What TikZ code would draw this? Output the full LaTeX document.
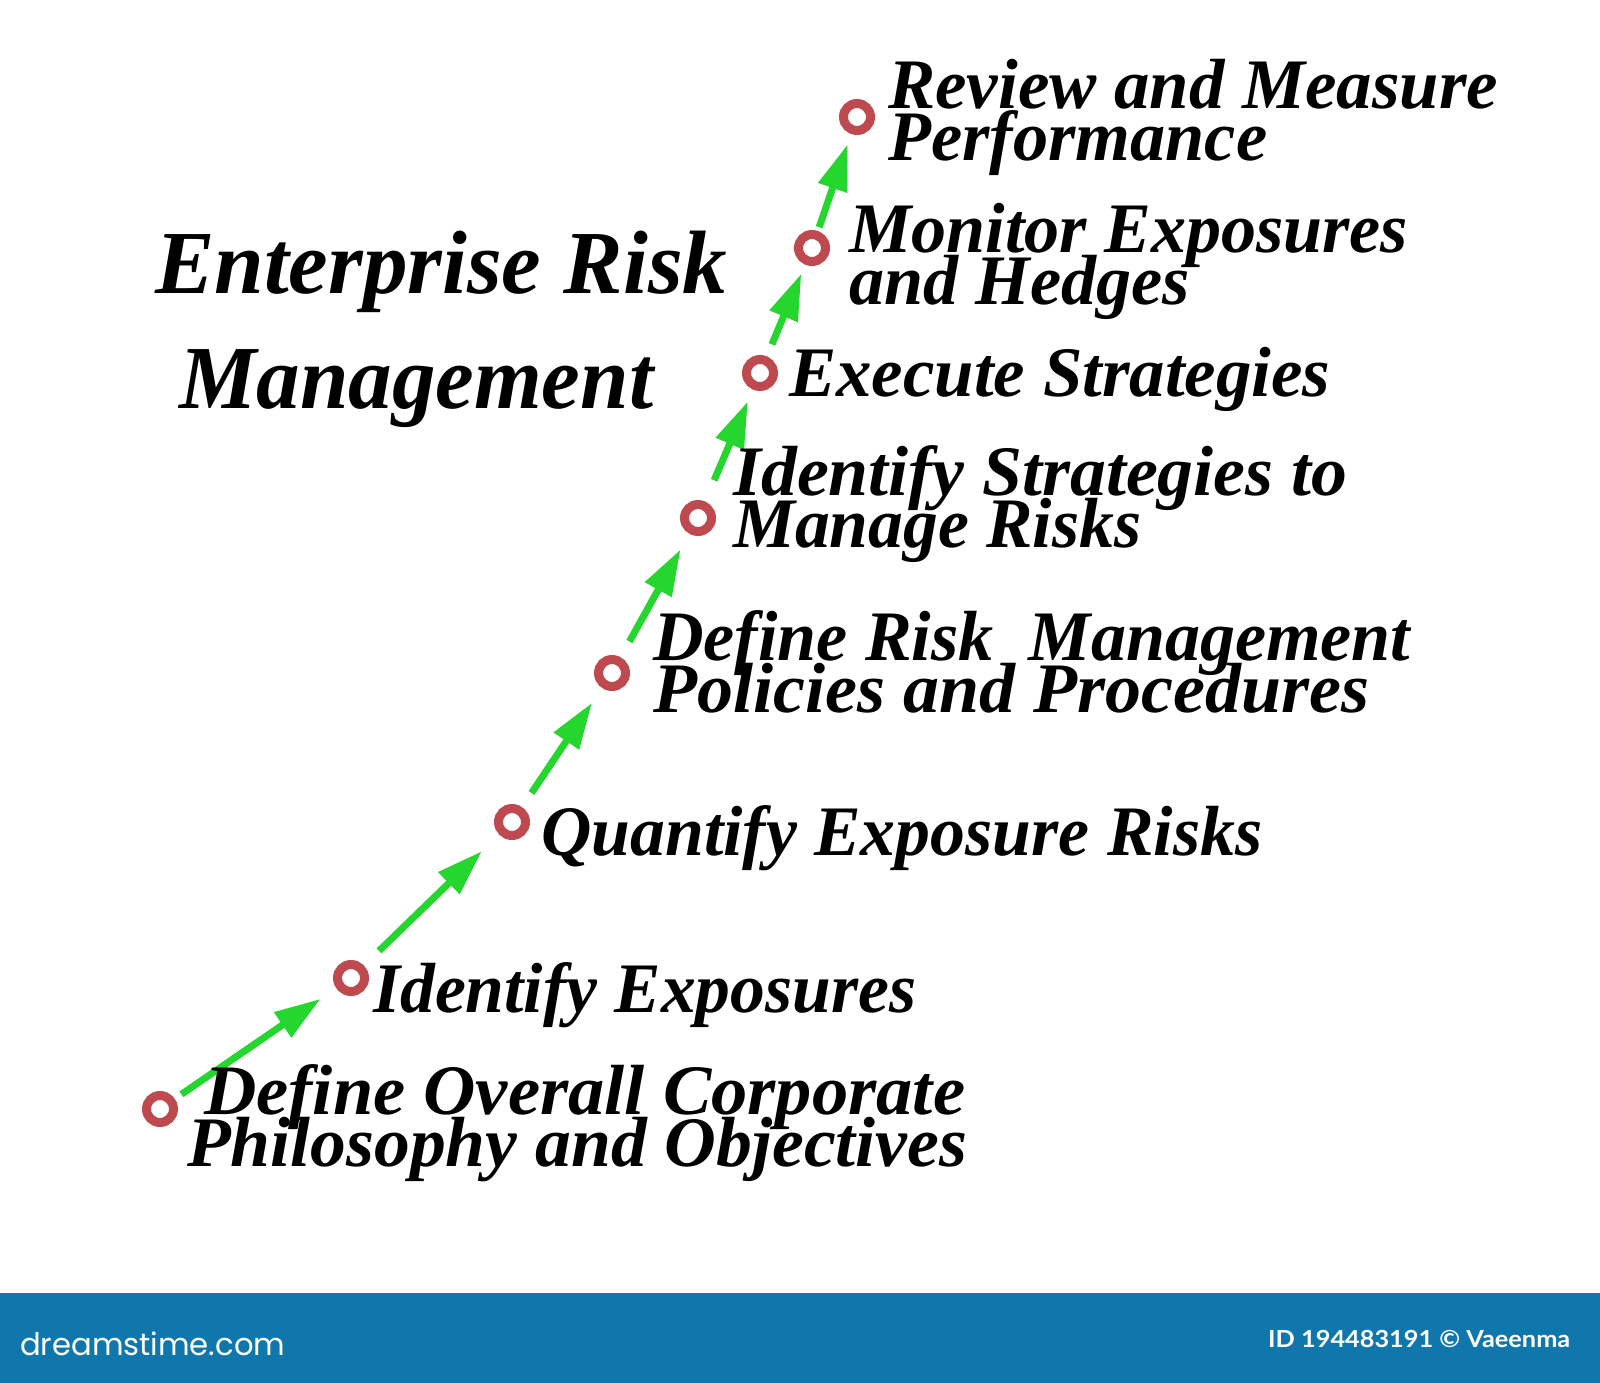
\documentclass[tikz,border=0pt]{standalone}
\usepackage{fontspec}
\setmainfont{Liberation Serif}
\newfontfamily\wmfont{Poppins}
\newfontfamily\idfont{Lato}
\usetikzlibrary{arrows.meta}
\definecolor{ringred}{RGB}{190,74,80}
\definecolor{arrgreen}{RGB}{36,214,46}
\definecolor{barblue}{RGB}{16,119,172}
\newcommand\fitw[2]{\resizebox{#1}{\height}{#2}}
\newcommand\twolines[5]{\vtop{\lineskiplimit=-300pt\baselineskip=52pt
  \hbox{\hspace*{#5}\fitw{#1}{#2}}\hbox{\fitw{#3}{#4}}}}
\begin{document}
\begin{tikzpicture}[x=1pt,y=-1pt,
  ring/.style={circle, draw=ringred, line width=9pt, minimum size=27pt, inner sep=0pt},
  arr/.style={draw=arrgreen, line width=7pt, -{Triangle[length=46pt,width=29pt]}},
  lbl/.style={anchor=base west, inner sep=0pt, font=\fontsize{71}{52}\selectfont\bfseries\itshape},
  ttl/.style={anchor=base west, inner sep=0pt, font=\fontsize{90}{100}\selectfont\bfseries\itshape},
  foot/.style={anchor=base west, inner sep=0pt, text=white}
]
\useasboundingbox (0,0) rectangle (1600,1383);
\fill[white] (0,0) rectangle (1600,1383);

% title
\node[ttl] (ta) at (155,293) {\fitw{572pt}{Enterprise Risk}};
\node[ttl] (tb) at (179,408) {\fitw{474pt}{Management}};

% rings
\node[ring] (c1) at (160,1109) {};
\node[ring] (c2) at (351,978) {};
\node[ring] (c3) at (512,822) {};
\node[ring] (c4) at (612,673) {};
\node[ring] (c5) at (698,518) {};
\node[ring] (c6) at (760,373) {};
\node[ring] (c7) at (812,248) {};
\node[ring] (c8) at (857,117) {};

% arrows
\draw[arr, shorten <=26pt, shorten >=37pt] (c1.center) -- (c2.center);
\draw[arr, shorten <=39pt, shorten >=42pt] (c2.center) -- (c3.center);
\draw[arr, shorten <=35pt, shorten >=36pt] (c3.center) -- (c4.center);
\draw[arr, shorten <=36pt, shorten >=36pt] (c4.center) -- (c5.center);
\draw[arr, shorten <=41pt, shorten >=31pt] (c5.center) -- (c6.center);
\draw[arr, shorten <=31pt, shorten >=28pt] (c6.center) -- (c7.center);
\draw[arr, shorten <=22pt, shorten >=29pt] (c7.center) -- (c8.center);

% labels
\node[lbl] (l8) at (888,109) {\twolines{610pt}{Review and Measure}{379pt}{Performance}{0pt}};
\node[lbl] (l7) at (849,252) {\twolines{559pt}{Monitor Exposures}{341pt}{and Hedges}{0pt}};
\node[lbl] (l6) at (789,396) {\fitw{541pt}{Execute Strategies}};
\node[lbl] (l5) at (733,495) {\twolines{614pt}{Identify Strategies to}{408pt}{Manage Risks}{0pt}};
\node[lbl] (l4) at (653,660) {\twolines{757pt}{Define Risk\hspace{0.25em} Management}{716pt}{Policies and Procedures}{0pt}};
\node[lbl] (l3) at (541,855) {\fitw{721pt}{Quantify Exposure Risks}};
\node[lbl] (l2) at (373,1012) {\fitw{543pt}{Identify Exposures}};
\node[lbl] (l1) at (187,1114) {\twolines{761pt}{Define Overall Corporate}{780pt}{Philosophy and Objectives}{17pt}};

% footer bar
\fill[barblue] (0,1293) rectangle (1600,1383);
\node[foot, font=\wmfont\fontsize{31}{31}\selectfont] (wm) at (20,1355) {\fitw{265pt}{dreamstime.com}};
\node[foot, font=\idfont\bfseries\fontsize{23.5}{24}\selectfont] (id) at (1268,1347) {\fitw{302pt}{ID 194483191 © Vaeenma}};
\end{tikzpicture}
\end{document}
